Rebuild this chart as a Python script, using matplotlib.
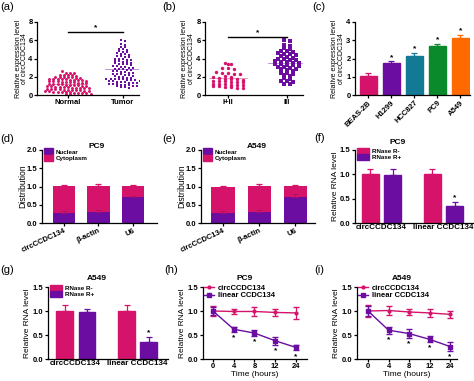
import numpy as np
import matplotlib
matplotlib.use("Agg")
import matplotlib.pyplot as plt
from matplotlib.patches import Patch
from matplotlib.lines import Line2D

plt.rcParams['font.family'] = ['Liberation Sans', 'DejaVu Sans']
plt.rcParams['font.weight'] = 'bold'

PINK = '#d6136b'
PURPLE = '#6a0da0'
TEAL = '#137a96'
GREEN = '#0a8a2a'
ORANGE = '#ff6a00'

# ---- data ----
# (a) tissue scatter
normal_a = [2.62, 2.45, 2.42, 2.4, 2.22, 2.2, 2.18, 2.15, 2.1, 2.02, 2.0, 1.98, 1.95, 1.92, 1.9,
            1.88, 1.8, 1.78, 1.75, 1.72, 1.7, 1.68, 1.65, 1.62, 1.6, 1.55, 1.52, 1.5, 1.48, 1.45,
            1.42, 1.4, 1.38, 1.35, 1.3, 1.28, 1.25, 1.22, 1.2, 1.18, 1.15, 1.12, 1.1, 1.05, 1.02,
            1.0, 0.98, 0.95, 0.92, 0.9, 0.88, 0.85, 0.82, 0.8, 0.78, 0.75, 0.72, 0.7, 0.68, 0.65,
            0.62, 0.6, 0.58, 0.55, 0.52, 0.5, 0.48, 0.45, 0.42, 0.4, 0.38, 0.35, 0.32, 0.3, 0.28,
            0.25, 0.22, 0.2, 0.18, 0.15, 0.12, 0.1]
tumor_a = [6.0, 5.9, 5.55, 5.5, 5.3, 5.25, 5.05, 5.0, 4.95, 4.8, 4.75, 4.7, 4.55, 4.5, 4.45, 4.4,
           4.3, 4.25, 4.2, 4.15, 4.0, 3.95, 3.9, 3.85, 3.8, 3.75, 3.7, 3.65, 3.6, 3.55, 3.5, 3.45,
           3.4, 3.35, 3.3, 3.2, 3.15, 3.1, 3.05, 3.0, 2.95, 2.9, 2.85, 2.8, 2.75, 2.7, 2.65, 2.6,
           2.55, 2.5, 2.45, 2.4, 2.35, 2.3, 2.25, 2.2, 2.15, 2.1, 2.05, 2.0, 1.95, 1.9, 1.85, 1.8,
           1.8, 1.75, 1.7, 1.7, 1.65, 1.6, 1.6, 1.55, 1.5, 1.5, 1.45, 1.4, 1.4, 1.35, 1.3, 1.3,
           1.25, 1.2, 1.2, 1.15, 1.1, 1.05, 1.0, 1.0, 0.95, 0.9, 0.85, 0.8]
# (b) stage scatter
early_b = [3.5, 3.45, 3.4, 3.0, 2.95, 2.9, 2.5, 2.45, 2.4, 2.35, 2.3, 2.05, 2.0,
           1.95, 1.85, 1.8, 1.75, 1.7, 1.65, 1.55, 1.5, 1.5, 1.45, 1.45, 1.4,
           1.25, 1.2, 1.2, 1.15, 1.15, 1.1, 1.0, 0.95, 0.9, 0.85, 0.8, 0.8]
late_b = [6.0, 5.9, 5.5, 5.4, 5.1, 5.0, 4.85, 4.8, 4.7, 4.55, 4.5, 4.45, 4.4, 4.25, 4.2, 4.1,
          4.0, 3.95, 3.85, 3.8, 3.7, 3.65, 3.6, 3.55, 3.5, 3.4, 3.35, 3.3, 3.25, 3.2, 3.1, 3.05,
          2.95, 2.9, 2.8, 2.75, 2.65, 2.45, 2.4, 2.35, 2.15, 2.05, 1.85, 1.75, 1.55, 1.5, 1.45,
          1.25, 1.2]
# (c) cell lines
cell_lines = ['BEAS-2B', 'H1299', 'HCC827', 'PC9', 'A549']
cell_vals = [1.02, 1.75, 2.12, 2.7, 3.15]
cell_err = [0.18, 0.1, 0.18, 0.1, 0.15]
cell_colors = [PINK, PURPLE, TEAL, GREEN, ORANGE]
# (d)/(e) nuclear / cytoplasm fraction
frac_genes = ['circCCDC134', 'β-actin', 'U6']
nuc_pc9 = [0.27, 0.3, 0.7]
tot_pc9 = [1.01, 1.01, 1.01]
nuc_err_pc9 = [0.05, 0.05, 0.05]
tot_err_pc9 = [0.03, 0.06, 0.03]
nuc_a549 = [0.27, 0.3, 0.72]
tot_a549 = [1.0, 1.02, 1.02]
nuc_err_a549 = [0.05, 0.05, 0.07]
tot_err_a549 = [0.02, 0.05, 0.03]
# (f)/(g) RNase R
rnase_groups = ['circCCDC134', 'linear CCDC134']
rminus_pc9 = [1.0, 1.0]
rplus_pc9 = [0.98, 0.35]
rminus_err_pc9 = [0.1, 0.1]
rplus_err_pc9 = [0.12, 0.08]
rminus_a549 = [1.0, 1.0]
rplus_a549 = [0.97, 0.35]
rminus_err_a549 = [0.12, 0.12]
rplus_err_a549 = [0.07, 0.11]
# (h)/(i) actinomycin time course
hours = ['0', '4', '8', '12', '24']
circ_pc9 = [1.0, 0.99, 0.99, 0.97, 0.96]
circ_err_pc9 = [0.1, 0.06, 0.1, 0.08, 0.13]
lin_pc9 = [1.0, 0.62, 0.54, 0.38, 0.24]
lin_err_pc9 = [0.08, 0.05, 0.06, 0.08, 0.06]
circ_a549 = [1.0, 1.01, 0.98, 0.96, 0.93]
circ_err_a549 = [0.12, 0.09, 0.06, 0.09, 0.07]
lin_a549 = [1.0, 0.6, 0.53, 0.41, 0.26]
lin_err_a549 = [0.1, 0.07, 0.09, 0.06, 0.09]

W, H = 474, 381
TICK = 5.5
fig = plt.figure(figsize=(W / 100, H / 100), dpi=100)


def add_ax(x0, y0, x1, y1):
    # pixel box -> figure fraction
    return fig.add_axes([x0 / W, 1 - y1 / H, (x1 - x0) / W, (y1 - y0) / H])


def style(ax):
    for s in ['top', 'right']:
        ax.spines[s].set_visible(False)
    for s in ['left', 'bottom']:
        ax.spines[s].set_linewidth(0.9)
    ax.tick_params(labelsize=TICK, width=0.9, length=2.2, pad=1)


def ylab(ax, text, px, size=6.2):
    pos = ax.get_position()
    ax.set_ylabel(text, fontsize=size, linespacing=0.95)
    ax.yaxis.label.set_va('center')
    ax.yaxis.set_label_coords((px / W - pos.x0) / pos.width, 0.5)


def ftext(px, py, s, **kw):
    fig.text(px / W, 1 - py / H, s, **kw)


def panel(x, y, s):
    ftext(x, y, s, fontsize=8, fontweight='normal', va='top', ha='left')


def swarm(vals, center, row_h, dx):
    v = np.asarray(vals)
    bins = np.round(v / row_h)
    xs = np.empty(len(v))
    for b in np.unique(bins):
        idx = np.where(bins == b)[0]
        n = len(idx)
        xs[idx] = center + (np.arange(n) - (n - 1) / 2) * dx
    return xs


def scatter_panel(ax, g1, g2, names, row_h, dx, ms, sig_y):
    ax.scatter(swarm(g1, 0, row_h, dx), g1, s=ms, c=PINK, marker='o', linewidths=0)
    ax.scatter(swarm(g2, 1, row_h, dx), g2, s=ms, c=PURPLE, marker='s', linewidths=0)
    for i, (g, c) in enumerate([(g1, PINK), (g2, PURPLE)]):
        m = np.mean(g)
        ax.plot([i - 0.32, i + 0.32], [m, m], color=c, lw=0.6, alpha=0.5)
    ax.plot([0, 1], [sig_y, sig_y], color='black', lw=1)
    ax.text(0.5, sig_y + 0.05, '*', ha='center', va='bottom', fontsize=6)
    ax.set_ylim(0, 8)
    ax.set_yticks([0, 2, 4, 6, 8])
    ax.set_xticks([0, 1])
    ax.set_xticklabels(names)


def bar_err(ax, x, h, e, color, w):
    colors = color if isinstance(color, list) else [color] * len(h)
    ax.bar(x, h, width=w, color=colors, edgecolor=colors)
    for xi, hi, ei, ci in zip(x, h, e, colors):
        ax.errorbar([xi], [hi], yerr=[[0], [ei]], fmt='none', ecolor=ci,
                    capsize=2.3, elinewidth=0.9, capthick=0.9)


# (a)
ax = add_ax(37, 22, 139, 95)
scatter_panel(ax, normal_a, tumor_a, ['Normal', 'Tumor'], 0.28, 0.075, 4.5, 6.9)
ax.set_xlim(-0.56, 1.29)
style(ax)
ylab(ax, 'Relative expression level\nof circCCDC134', 21.5, 5)
panel(0, 2, '(a)')

# (b)
ax = add_ax(205, 22, 303, 95)
scatter_panel(ax, early_b, late_b, ['I+II', 'III'], 0.3, 0.1, 6, 6.4)
ax.set_xlim(-0.39, 1.27)
style(ax)
ylab(ax, 'Relative expression level\nof circCCDC134', 188, 5)
panel(162, 2, '(b)')

# (c)
ax = add_ax(355, 22, 470, 95)
xc = np.arange(len(cell_lines))
bar_err(ax, xc, cell_vals, cell_err, cell_colors, 0.74)
for i in range(1, len(cell_lines)):
    ax.text(xc[i], cell_vals[i] + cell_err[i] + 0.02, '*', ha='center', va='bottom', fontsize=6)
ax.set_ylim(0, 4)
ax.set_yticks([0, 1, 2, 3, 4])
ax.set_xlim(-0.57, 4.43)
ax.set_xticks(xc)
ax.set_xticklabels(cell_lines, rotation=45, ha='right', rotation_mode='anchor')
style(ax)
ylab(ax, 'Relative expression level\nof circCCDC134', 338, 5)
panel(312, 2, '(c)')


# (d), (e)
def frac_panel(box, nuc, tot, nerr, terr, title, title_px, xl, lab_px):
    ax = add_ax(*box)
    x = np.arange(len(frac_genes))
    cyt = np.array(tot) - np.array(nuc)
    ax.bar(x, nuc, width=0.64, color=PURPLE)
    ax.bar(x, cyt, bottom=nuc, width=0.64, color=PINK)
    ax.errorbar(x, tot, yerr=[np.zeros(3), terr], fmt='none', ecolor=PINK,
                capsize=2.3, elinewidth=0.9, capthick=0.9)
    ax.errorbar(x, nuc, yerr=[np.zeros(3), nerr], fmt='none', ecolor='#a8106a',
                capsize=2.3, elinewidth=0.6, capthick=0.6)
    ax.set_ylim(0, 2.0)
    ax.set_yticks([0, 0.5, 1.0, 1.5, 2.0])
    ax.set_xlim(*xl)
    ax.set_xticks(x)
    ax.set_xticklabels(frac_genes, rotation=25, ha='right', rotation_mode='anchor')
    style(ax)
    ftext(title_px, 146, title, fontsize=6, ha='center', va='center')
    ylab(ax, 'Distribution', lab_px)
    ax.legend(handles=[Patch(color=PURPLE, label='Nuclear'), Patch(color=PINK, label='Cytoplasm')],
              loc='upper left', bbox_to_anchor=(0.01, 1.03), fontsize=4.5, frameon=False,
              handlelength=1.5, handleheight=1.1, handletextpad=0.4, labelspacing=0.0,
              borderpad=0.0, borderaxespad=0.1)
    return ax


frac_panel((42, 150, 157, 223), nuc_pc9, tot_pc9, nuc_err_pc9, tot_err_pc9, 'PC9', 97,
           (-0.63, 2.69), 23)
panel(0, 134, '(d)')
frac_panel((201, 150, 315, 223), nuc_a549, tot_a549, nuc_err_a549, tot_err_a549, 'A549', 257,
           (-0.61, 2.55), 182)
panel(162, 134, '(e)')


# (f), (g)
def rnase_panel(box, rm, rp, rme, rpe, title, title_xy, xl, lab_px):
    ax = add_ax(*box)
    x = np.arange(len(rnase_groups))
    bar_err(ax, x - 0.17, rm, rme, PINK, 0.27)
    bar_err(ax, x + 0.19, rp, rpe, PURPLE, 0.27)
    ax.text(1.19, rp[1] + rpe[1] + 0.01, '*', ha='center', va='bottom', fontsize=6)
    ax.set_ylim(0, 1.5)
    ax.set_yticks([0, 0.5, 1.0, 1.5])
    ax.set_xlim(*xl)
    ax.set_xticks(x)
    ax.set_xticklabels(rnase_groups)
    style(ax)
    ax.tick_params(axis='x', length=0, labelsize=5.8, pad=1)
    ftext(title_xy[0], title_xy[1], title, fontsize=6, ha='center', va='center')
    ylab(ax, 'Relative RNA level', lab_px, 6)
    ax.legend(handles=[Patch(color=PINK, label='RNase R-'), Patch(color=PURPLE, label='RNase R+')],
              loc='upper left', bbox_to_anchor=(0.01, 1.04), fontsize=4.5, frameon=False,
              handlelength=2.0, handleheight=1.1, handletextpad=0.4, labelspacing=0.0,
              borderpad=0.0, borderaxespad=0.1)
    return ax


rnase_panel((355, 150, 474, 223), rminus_pc9, rplus_pc9, rminus_err_pc9, rplus_err_pc9, 'PC9',
            (398, 143), (-0.42, 1.5), 335)
panel(314, 133, '(f)')
rnase_panel((48, 287, 168, 359), rminus_a549, rplus_a549, rminus_err_a549, rplus_err_a549, 'A549',
            (97, 278), (-0.44, 1.5), 28)
panel(0, 265, '(g)')


# (h), (i)
def time_panel(box, circ, ce, lin, le, title, title_px, xl, lab_px):
    ax = add_ax(*box)
    x = np.arange(len(hours))
    ax.errorbar(x, circ, yerr=ce, color=PINK, marker='o', ms=2, lw=1, capsize=2, elinewidth=0.9)
    ax.errorbar(x, lin, yerr=le, color=PURPLE, marker='s', ms=2.8, lw=1, capsize=2, elinewidth=0.9)
    for i in range(1, len(hours)):
        ax.text(x[i], lin[i] - le[i] - 0.05, '*', ha='center', va='top', fontsize=6)
    ax.set_ylim(0, 1.5)
    ax.set_yticks([0, 0.5, 1.0, 1.5])
    ax.set_xlim(*xl)
    ax.set_xticks(x)
    ax.set_xticklabels(hours)
    ax.set_xlabel('Time (hours)', fontsize=6, labelpad=0.5)
    style(ax)
    ftext(title_px, 279, title, fontsize=6, ha='center', va='center')
    ylab(ax, 'Relative RNA level', lab_px, 6)
    ax.legend(handles=[Line2D([], [], color=PINK, marker='o', ms=2, lw=1, label='circCCDC134'),
                       Line2D([], [], color=PURPLE, marker='s', ms=2.8, lw=1, label='linear CCDC134')],
              loc='upper left', bbox_to_anchor=(0.0, 1.05), fontsize=5.5, frameon=False,
              handlelength=1.3, handletextpad=0.5, labelspacing=0.05, borderpad=0.0,
              borderaxespad=0.1)
    return ax


time_panel((203, 287, 307, 359), circ_pc9, circ_err_pc9, lin_pc9, lin_err_pc9, 'PC9', 245,
           (-0.48, 4.53), 183)
panel(164, 265, '(h)')
time_panel((357, 287, 457, 359), circ_a549, circ_err_a549, lin_a549, lin_err_a549, 'A549', 402,
           (-0.54, 4.34), 336)
panel(314, 265, '(i)')

fig.savefig('out.png', dpi=100)
